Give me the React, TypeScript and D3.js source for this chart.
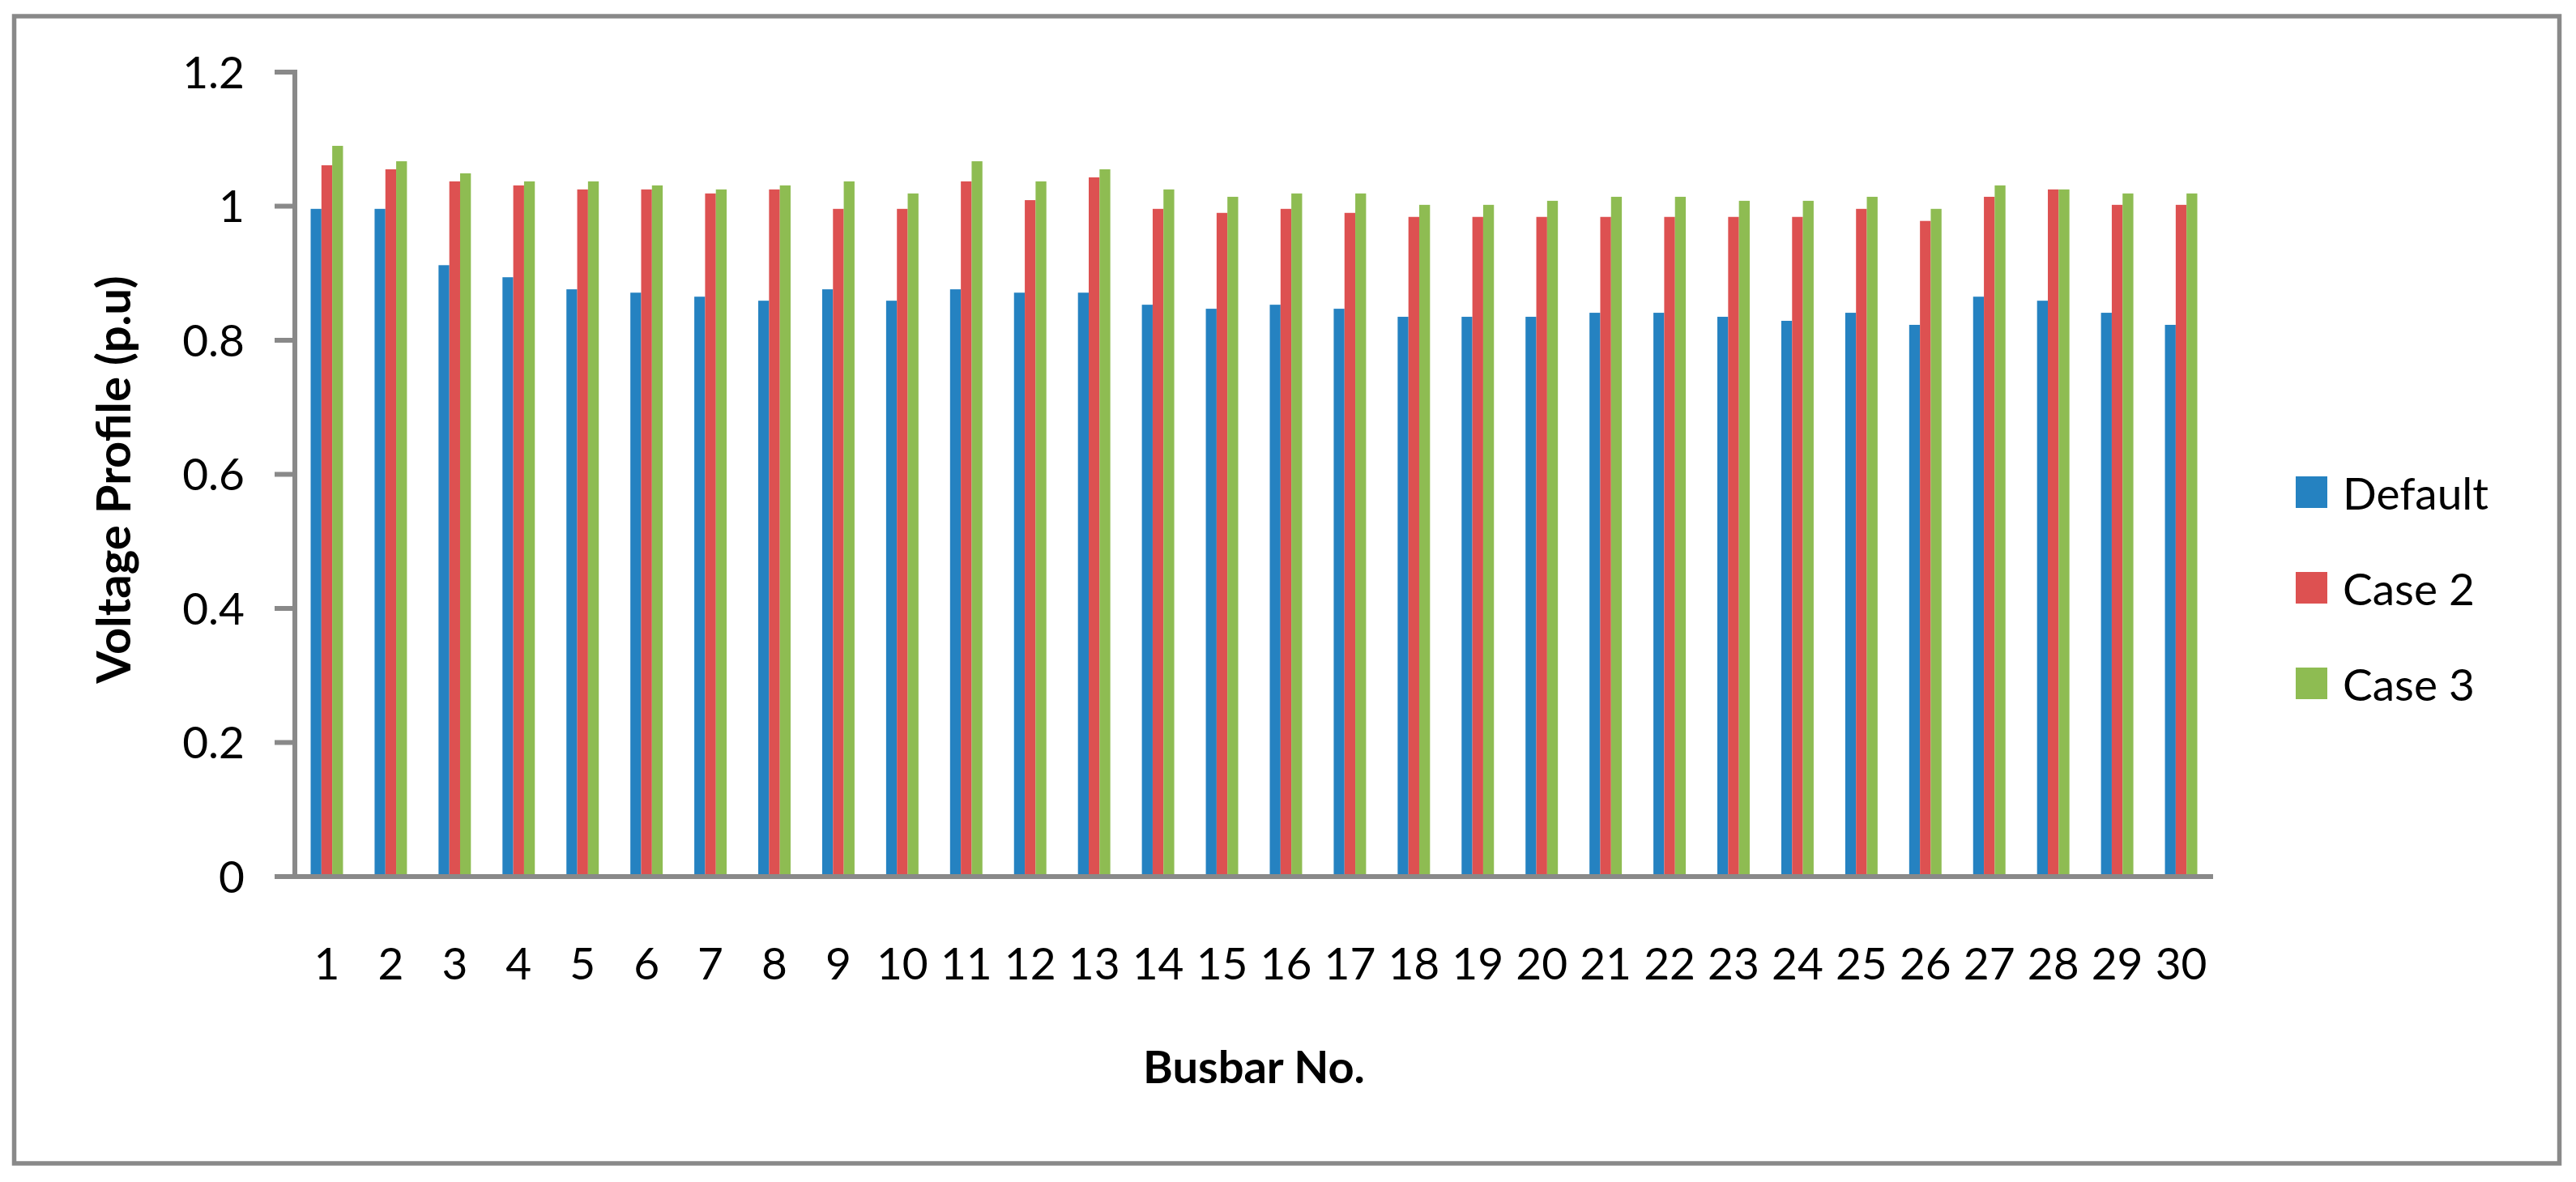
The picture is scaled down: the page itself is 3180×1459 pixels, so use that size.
import React from "react";
import * as d3 from "d3";

const busbars: string[] = Array.from({ length: 30 }, (_, i) => String(i + 1));
const seriesNames: string[] = ["Default", "Case 2", "Case 3"];
const defaultValues: number[] = [
  0.996, 0.996, 0.912, 0.894, 0.876, 0.871, 0.865, 0.859, 0.876, 0.859,
  0.876, 0.871, 0.871, 0.853, 0.847, 0.853, 0.847, 0.835, 0.835, 0.835,
  0.841, 0.841, 0.835, 0.829, 0.841, 0.823, 0.865, 0.859, 0.841, 0.823,
];
const case2Values: number[] = [
  1.061, 1.055, 1.037, 1.031, 1.025, 1.025, 1.019, 1.025, 0.996, 0.996,
  1.037, 1.009, 1.043, 0.996, 0.990, 0.996, 0.990, 0.984, 0.984, 0.984,
  0.984, 0.984, 0.984, 0.984, 0.996, 0.978, 1.014, 1.025, 1.002, 1.002,
];
const case3Values: number[] = [
  1.090, 1.067, 1.049, 1.037, 1.037, 1.031, 1.025, 1.031, 1.037, 1.019,
  1.067, 1.037, 1.055, 1.025, 1.014, 1.019, 1.019, 1.002, 1.002, 1.008,
  1.014, 1.014, 1.008, 1.008, 1.014, 0.996, 1.031, 1.025, 1.019, 1.019,
];
const yTicks: number[] = [0, 0.2, 0.4, 0.6, 0.8, 1, 1.2];
const colors: string[] = ["#2582C1", "#DD5151", "#8EBC52"];

const W = 3180;
const H = 1459;
const GRAY = "#898989";
const FONT = "Lato, 'Open Sans', sans-serif";

export default function App() {
  React.useEffect(() => {
    document.body.style.margin = "0";
  }, []);

  const plotLeft = 364;
  const plotRight = 2732;
  const plotTop = 89;
  const plotBottom = 1082;

  const x = d3.scaleBand<string>().domain(busbars).range([plotLeft, plotRight]).padding(0);
  const bw = x.bandwidth();
  const xInner = d3
    .scaleBand<string>()
    .domain(seriesNames)
    .range([bw * 0.247, bw * 0.753])
    .padding(0);
  const y = d3.scaleLinear().domain([0, 1.2]).range([plotBottom, plotTop]);

  const allSeries = [defaultValues, case2Values, case3Values];
  const fmt = (v: number) => (v === 0 ? "0" : d3.format("~g")(v));

  return (
    <svg
      width={W}
      height={H}
      style={{ position: "absolute", left: 0, top: 0, display: "block", background: "#fff" }}
      fontFamily={FONT}
    >
      <rect x={0} y={0} width={W} height={H} fill="#fff" />
      <rect x={17.5} y={20} width={3142} height={1416} fill="none" stroke={GRAY} strokeWidth={5.5} />

      {/* bars */}
      {busbars.map((b, i) => (
        <g key={b} transform={`translate(${x(b)},0)`}>
          {allSeries.map((s, k) => (
            <rect
              key={k}
              x={xInner(seriesNames[k])}
              y={y(s[i])}
              width={xInner.bandwidth()}
              height={plotBottom - y(s[i])}
              fill={colors[k]}
            />
          ))}
        </g>
      ))}

      {/* y axis */}
      <line x1={plotLeft} x2={plotLeft} y1={plotTop - 3} y2={plotBottom + 3} stroke={GRAY} strokeWidth={6} />
      {yTicks.map((t) => (
        <g key={t}>
          <line x1={339} x2={plotLeft} y1={y(t)} y2={y(t)} stroke={GRAY} strokeWidth={6} />
          <text
            x={302}
            y={y(t) + 19.5}
            textAnchor="end"
            fontSize={55}
            fill="#000"
          >
            {fmt(t)}
          </text>
        </g>
      ))}

      {/* x axis */}
      <line x1={339} x2={plotRight} y1={plotBottom} y2={plotBottom} stroke={GRAY} strokeWidth={6} />
      {busbars.map((b) => (
        <text
          key={b}
          x={(x(b) as number) + bw / 2}
          y={1209}
          textAnchor="middle"
          fontSize={55}
          fill="#000"
        >
          {b}
        </text>
      ))}

      {/* axis titles */}
      <text
        transform={`translate(161,592) rotate(-90)`}
        textAnchor="middle"
        fontSize={58}
        fontWeight="bold"
        fill="#000"
      >
        Voltage Profile (p.u)
      </text>
      <text x={1548} y={1337} textAnchor="middle" fontSize={56} fontWeight="bold" fill="#000">
        Busbar No.
      </text>

      {/* legend */}
      {seriesNames.map((n, k) => (
        <g key={n} transform={`translate(2834,${588 + k * 118})`}>
          <rect x={0} y={0} width={39} height={39} fill={colors[k]} />
          <text x={58} y={41} fontSize={55} fill="#000">
            {n}
          </text>
        </g>
      ))}
    </svg>
  );
}
